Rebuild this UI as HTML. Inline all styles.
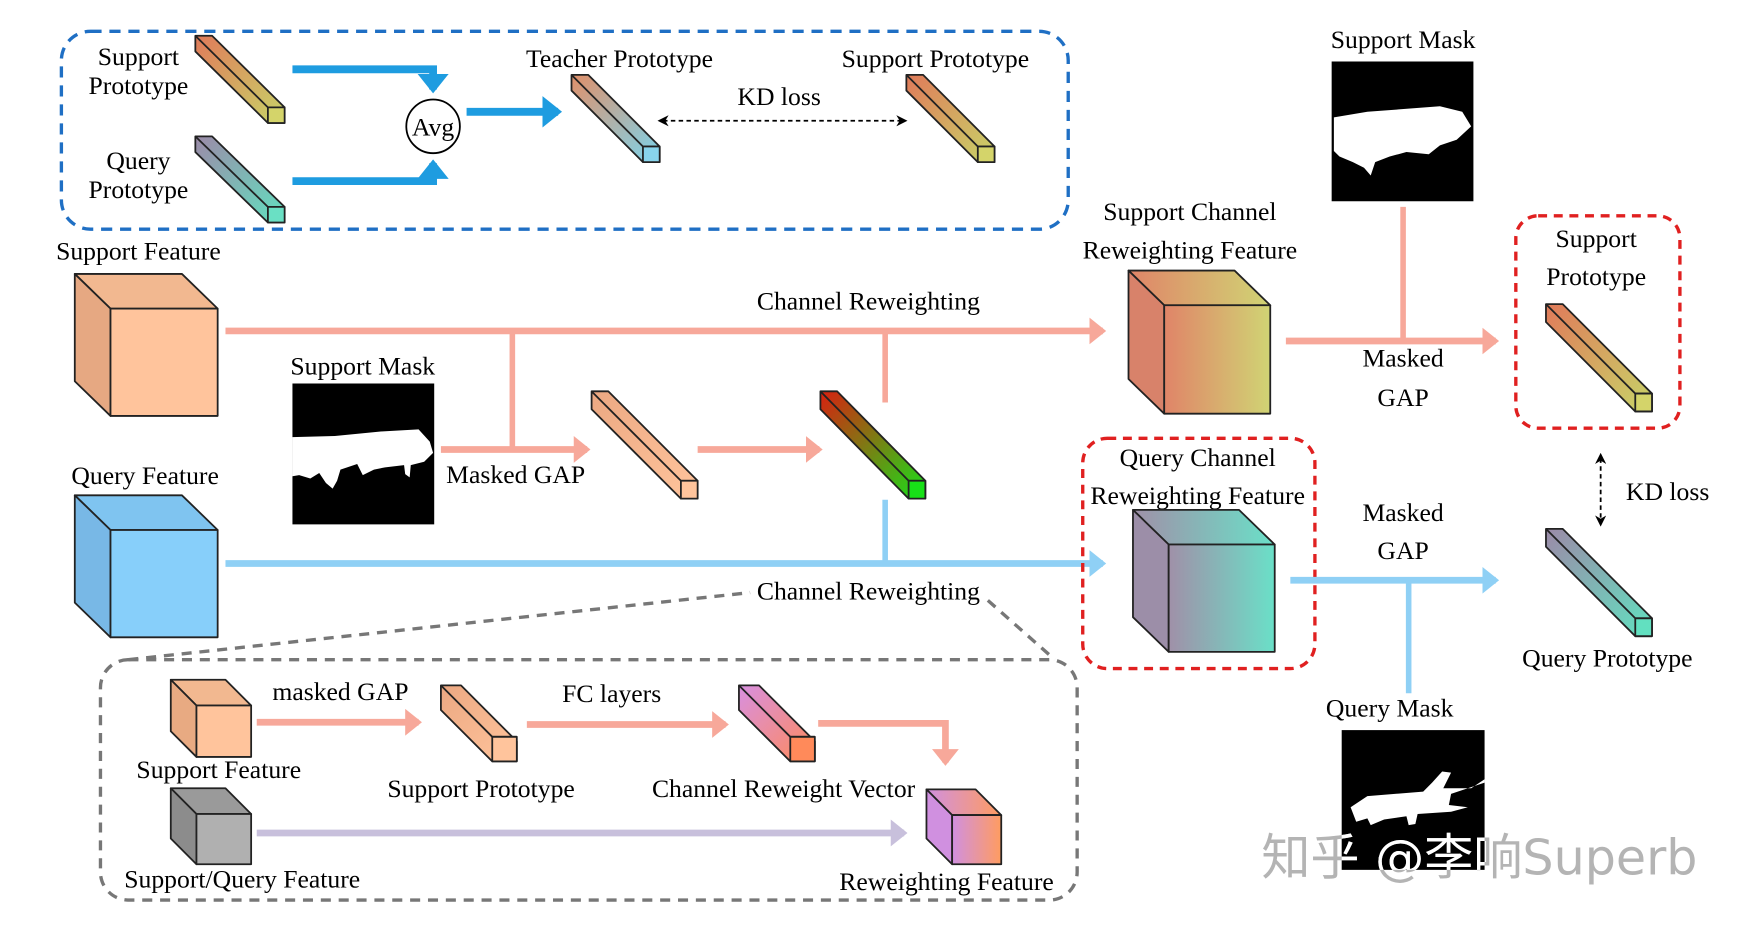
<!DOCTYPE html>
<html><head><meta charset="utf-8"><style>html,body{margin:0;padding:0;background:#fff}svg{display:block}</style></head>
<body>
<svg width="1748" height="928" viewBox="0 0 1566 830" preserveAspectRatio="none" xmlns="http://www.w3.org/2000/svg" font-family="Liberation Serif, serif" font-size="23" text-anchor="middle">
<defs>
<linearGradient id="gSP" x1="0" y1="0" x2="1" y2="1"><stop offset="0" stop-color="#e07a5a"/><stop offset="1" stop-color="#c8d468"/></linearGradient>
<linearGradient id="gQP" x1="0" y1="0" x2="1" y2="1"><stop offset="0" stop-color="#9c8aa8"/><stop offset="1" stop-color="#62e0c0"/></linearGradient>
<linearGradient id="gTP" x1="0" y1="0" x2="1" y2="1"><stop offset="0" stop-color="#e0906a"/><stop offset="1" stop-color="#7cd4ec"/></linearGradient>
<linearGradient id="gOr" x1="0" y1="0" x2="1" y2="1"><stop offset="0" stop-color="#eca882"/><stop offset="1" stop-color="#ffc49c"/></linearGradient>
<linearGradient id="gRG" x1="0" y1="0" x2="1" y2="1"><stop offset="0" stop-color="#d82010"/><stop offset="1" stop-color="#18e018"/></linearGradient>
<linearGradient id="gPk" x1="0" y1="0" x2="1" y2="1"><stop offset="0" stop-color="#d890e0"/><stop offset="1" stop-color="#ff8a5a"/></linearGradient>
<linearGradient id="gSC" x1="0" y1="0" x2="1" y2="0"><stop offset="0" stop-color="#e08468"/><stop offset="1" stop-color="#d0d474"/></linearGradient>
<linearGradient id="gQC" x1="0" y1="0" x2="1" y2="0"><stop offset="0" stop-color="#a090a8"/><stop offset="1" stop-color="#6ae0c8"/></linearGradient>
<linearGradient id="gRF" x1="0" y1="0" x2="1" y2="0"><stop offset="0" stop-color="#d090e0"/><stop offset="1" stop-color="#ff9c60"/></linearGradient>
<marker id="aB" markerWidth="4" markerHeight="4" refX="2" refY="2" orient="auto" markerUnits="strokeWidth"><path d="M0,0 L2.5,2 L0,4 Z" fill="#1e9ce0"/></marker>
<marker id="aP" markerWidth="4" markerHeight="4" refX="2" refY="2" orient="auto" markerUnits="strokeWidth"><path d="M0,0 L2.5,2 L0,4 Z" fill="#f7a89a"/></marker>
<marker id="aL" markerWidth="4" markerHeight="4" refX="2" refY="2" orient="auto" markerUnits="strokeWidth"><path d="M0,0 L2.5,2 L0,4 Z" fill="#8fd0f5"/></marker>
<marker id="aV" markerWidth="4" markerHeight="4" refX="2" refY="2" orient="auto" markerUnits="strokeWidth"><path d="M0,0 L2.5,2 L0,4 Z" fill="#c8c0dc"/></marker>
<marker id="aK" markerWidth="10" markerHeight="10" refX="5" refY="5" orient="auto-start-reverse" markerUnits="userSpaceOnUse"><path d="M0,0 L10,5 L0,10 L3,5 Z" fill="#000"/></marker>
<clipPath id="qm"><rect x="1202" y="653" width="128" height="125"/></clipPath>
</defs>

<rect x="55" y="28" width="902" height="177" rx="26" fill="none" stroke="#1f6fc4" stroke-width="3" stroke-dasharray="10,7"/>
<text x="124" y="58">Support</text><text x="124" y="84">Prototype</text>
<text x="124" y="151">Query</text><text x="124" y="177">Prototype</text>
<text x="555" y="60">Teacher Prototype</text>
<text x="838" y="60">Support Prototype</text>
<text x="698" y="94">KD loss</text>
<line x1="594" y1="108" x2="808" y2="108" stroke="#000" stroke-width="1.6" stroke-dasharray="4,3" marker-start="url(#aK)" marker-end="url(#aK)"/>

<path d="M262,62 H388 V80" fill="none" stroke="#1e9ce0" stroke-width="7" marker-end="url(#aB)"/>
<path d="M262,162 H388 V146" fill="none" stroke="#1e9ce0" stroke-width="7" marker-end="url(#aB)"/>
<line x1="418" y1="100" x2="500" y2="100" stroke="#1e9ce0" stroke-width="7" marker-end="url(#aB)"/>
<circle cx="388" cy="113" r="24" fill="#fff" stroke="#000" stroke-width="1.6"/>
<text x="388" y="121">Avg</text>

<g stroke="#222" stroke-width="1.6" stroke-linejoin="round">
<polygon points="175,32 190,32 255,96 255,110 240,110 175,46" fill="url(#gSP)"/>
<polyline points="175,32 240,96 255,96" fill="none"/>
<polygon points="240,96 255,96 255,110 240,110" fill="#d4d46a"/>
<polygon points="175,122 190,122 255,185 255,199 240,199 175,136" fill="url(#gQP)"/>
<polyline points="175,122 240,185 255,185" fill="none"/>
<polygon points="240,185 255,185 255,199 240,199" fill="#6ae0c4"/>
<polygon points="512,67 527,67 591,131 591,145 576,145 512,81" fill="url(#gTP)"/>
<polyline points="512,67 576,131 591,131" fill="none"/>
<polygon points="576,131 591,131 591,145 576,145" fill="#88d4ec"/>
<polygon points="812,67 827,67 891,131 891,145 876,145 812,81" fill="url(#gSP)"/>
<polyline points="812,67 876,131 891,131" fill="none"/>
<polygon points="876,131 891,131 891,145 876,145" fill="#d4d46a"/>
</g>

<text x="1257" y="43">Support Mask</text>
<rect x="1193" y="55" width="127" height="125" fill="#000"/>
<path d="M1195,105 L1225,100 L1290,95 L1310,100 L1318,113 L1305,125 L1290,130 L1280,138 L1260,136 L1245,140 L1232,145 L1228,157 L1222,150 L1212,145 L1200,140 L1195,135 Z" fill="#fff"/>
<line x1="1257" y1="185" x2="1257" y2="305" stroke="#f7a89a" stroke-width="5"/>

<text x="124" y="232">Support Feature</text>
<g stroke="#222" stroke-width="1.6" stroke-linejoin="round">
<polygon points="67,245 163,245 195,276 99,276 67,245" fill="#f2b890"/>
<polygon points="67,245 99,276 99,372 67,341" fill="#e6a882"/>
<rect x="99" y="276" width="96" height="96" fill="#ffc49c"/>
</g>
<text x="130" y="433">Query Feature</text>
<g stroke="#222" stroke-width="1.6" stroke-linejoin="round">
<polygon points="67,443 163,443 195,474 99,474" fill="#7fc4f0"/>
<polygon points="67,443 99,474 99,570 67,539" fill="#78b8e6"/>
<rect x="99" y="474" width="96" height="96" fill="#87cffa"/>
</g>

<line x1="202" y1="296" x2="988" y2="296" stroke="#f7a89a" stroke-width="6" marker-end="url(#aP)"/>
<line x1="459" y1="296" x2="459" y2="400" stroke="#f7a89a" stroke-width="5"/>
<line x1="793" y1="296" x2="793" y2="360" stroke="#f7a89a" stroke-width="5"/>
<text x="778" y="277">Channel Reweighting</text>

<text x="325" y="335">Support Mask</text>
<rect x="262" y="343" width="127" height="126" fill="#000"/>
<path d="M262,391 L300,390 L340,386 L375,384 L385,395 L388,405 L380,413 L368,416 L367,427 L363,424 L362,416 L345,418 L335,420 L325,425 L320,415 L305,420 L302,430 L298,437 L292,432 L286,423 L278,428 L268,425 L262,426 Z" fill="#fff"/>
<line x1="395" y1="402" x2="526" y2="402" stroke="#f7a89a" stroke-width="6" marker-end="url(#aP)"/>
<text x="462" y="432">Masked GAP</text>
<line x1="625" y1="402" x2="734" y2="402" stroke="#f7a89a" stroke-width="6" marker-end="url(#aP)"/>
<g stroke="#222" stroke-width="1.6" stroke-linejoin="round">
<polygon points="530,350 545,350 625,430 625,446 610,446 530,366" fill="url(#gOr)"/>
<polyline points="530,350 610,430 625,430" fill="none"/>
<polygon points="610,430 625,430 625,446 610,446" fill="#ffc49c"/>
<polygon points="735,350 750,350 829,430 829,446 814,446 735,366" fill="url(#gRG)"/>
<polyline points="735,350 814,430 829,430" fill="none"/>
<polygon points="814,430 829,430 829,446 814,446" fill="#18e018"/>
</g>

<line x1="793" y1="447" x2="793" y2="505" stroke="#8fd0f5" stroke-width="5"/>
<line x1="202" y1="504" x2="988" y2="504" stroke="#8fd0f5" stroke-width="6" marker-end="url(#aL)"/>

<text x="1066" y="197">Support Channel</text>
<text x="1066" y="231">Reweighting Feature</text>
<g stroke="#222" stroke-width="1.6" stroke-linejoin="round">
<polygon points="1011,242 1106,242 1138,273 1043,273" fill="url(#gSC)"/>
<polygon points="1011,242 1043,273 1043,370 1011,339" fill="#d8826a"/>
<rect x="1043" y="273" width="95" height="97" fill="url(#gSC)"/>
</g>
<line x1="1152" y1="305" x2="1340" y2="305" stroke="#f7a89a" stroke-width="6" marker-end="url(#aP)"/>
<text x="1257" y="328">Masked</text><text x="1257" y="363">GAP</text>

<rect x="1358" y="193" width="147" height="190" rx="20" fill="none" stroke="#e02020" stroke-width="3" stroke-dasharray="8,6"/>
<text x="1430" y="221">Support</text><text x="1430" y="255">Prototype</text>
<g stroke="#222" stroke-width="1.6" stroke-linejoin="round">
<polygon points="1385,272 1400,272 1480,352 1480,368 1465,368 1385,288" fill="url(#gSP)"/>
<polyline points="1385,272 1465,352 1480,352" fill="none"/>
<polygon points="1465,352 1480,352 1480,368 1465,368" fill="#d4d46a"/>
<polygon points="1385,473 1400,473 1480,553 1480,569 1465,569 1385,489" fill="url(#gQP)"/>
<polyline points="1385,473 1465,553 1480,553" fill="none"/>
<polygon points="1465,553 1480,553 1480,569 1465,569" fill="#62e0c0"/>
</g>
<line x1="1434" y1="410" x2="1434" y2="466" stroke="#000" stroke-width="1.6" stroke-dasharray="4,3" marker-start="url(#aK)" marker-end="url(#aK)"/>
<text x="1494" y="447">KD loss</text>
<text x="1440" y="596">Query Prototype</text>

<rect x="970" y="392" width="208" height="206" rx="22" fill="none" stroke="#e02020" stroke-width="3" stroke-dasharray="8,6"/>
<text x="1073" y="417">Query Channel</text>
<text x="1073" y="451">Reweighting Feature</text>
<g stroke="#222" stroke-width="1.6" stroke-linejoin="round">
<polygon points="1015,456 1110,456 1142,487 1047,487" fill="url(#gQC)"/>
<polygon points="1015,456 1047,487 1047,583 1015,552" fill="#9c8ea8"/>
<rect x="1047" y="487" width="95" height="96" fill="url(#gQC)"/>
</g>
<line x1="1156" y1="519" x2="1340" y2="519" stroke="#8fd0f5" stroke-width="6" marker-end="url(#aL)"/>
<line x1="1262" y1="519" x2="1262" y2="620" stroke="#8fd0f5" stroke-width="5"/>
<text x="1257" y="466">Masked</text><text x="1257" y="500">GAP</text>
<text x="1245" y="641">Query Mask</text>
<rect x="1202" y="653" width="128" height="125" fill="#000"/>
<path d="M1210,722 L1225,712 L1275,708 L1283,700 L1292,690 L1300,691 L1293,705 L1318,705 L1330,697 L1330,700 L1300,710 L1298,720 L1315,722 L1300,726 L1270,728 L1268,737 L1262,738 L1260,730 L1240,733 L1228,738 L1225,732 L1215,735 Z" fill="#fff"/>

<line x1="115" y1="590" x2="672" y2="530" stroke="#777" stroke-width="3" stroke-dasharray="9,7"/>
<line x1="885" y1="537" x2="945" y2="590" stroke="#777" stroke-width="3" stroke-dasharray="9,7"/>
<rect x="90" y="590" width="875" height="215" rx="25" fill="none" stroke="#777" stroke-width="3" stroke-dasharray="9,7"/>
<text x="778" y="536">Channel Reweighting</text>

<g stroke="#222" stroke-width="1.6" stroke-linejoin="round">
<polygon points="153,608 202,608 225,631 176,631" fill="#f2b890"/>
<polygon points="153,608 176,631 176,677 153,654" fill="#e8aa82"/>
<rect x="176" y="631" width="49" height="46" fill="#ffc49c"/>
<polygon points="153,705 202,705 225,728 176,728" fill="#9a9a9a"/>
<polygon points="153,705 176,728 176,773 153,750" fill="#8c8c8c"/>
<rect x="176" y="728" width="49" height="45" fill="#b0b0b0"/>
<polygon points="830,706 874,706 897,729 853,729" fill="url(#gRF)"/>
<polygon points="830,706 853,729 853,773 830,750" fill="#d090e0"/>
<rect x="853" y="729" width="44" height="44" fill="url(#gRF)"/>
<polygon points="395,613 413,613 463,663 463,681 441,681 395,635" fill="url(#gOr)"/>
<polyline points="395,613 441,659 463,659" fill="none"/><polygon points="441,659 463,659 463,681 441,681" fill="#ffc49c"/>
<polygon points="662,613 680,613 730,663 730,681 708,681 662,635" fill="url(#gPk)"/>
<polyline points="662,613 708,659 730,659" fill="none"/><polygon points="708,659 730,659 730,681 708,681" fill="#ff8a5a"/>
</g>
<text x="196" y="696">Support Feature</text>
<text x="305" y="626">masked GAP</text>
<line x1="230" y1="646" x2="375" y2="646" stroke="#f7a89a" stroke-width="6" marker-end="url(#aP)"/>
<text x="431" y="713">Support Prototype</text>
<text x="548" y="628">FC layers</text>
<line x1="472" y1="648" x2="650" y2="648" stroke="#f7a89a" stroke-width="6" marker-end="url(#aP)"/>
<text x="702" y="713">Channel Reweight Vector</text>
<path d="M733,647 H847 V682" fill="none" stroke="#f7a89a" stroke-width="6" marker-end="url(#aP)"/>
<line x1="230" y1="745" x2="810" y2="745" stroke="#c8c0dc" stroke-width="6" marker-end="url(#aV)"/>
<text x="217" y="794">Support/Query Feature</text>
<text x="848" y="796">Reweighting Feature</text>

<text x="1130" y="782" text-anchor="start" font-family="DejaVu Sans, Noto Sans CJK SC, sans-serif" font-size="44" fill="#b4b4b4">知乎 @李响Superb</text>
<text x="1130" y="782" text-anchor="start" font-family="DejaVu Sans, Noto Sans CJK SC, sans-serif" font-size="44" fill="#fff" clip-path="url(#qm)">知乎 @李响Superb</text>
</svg>
</body></html>
